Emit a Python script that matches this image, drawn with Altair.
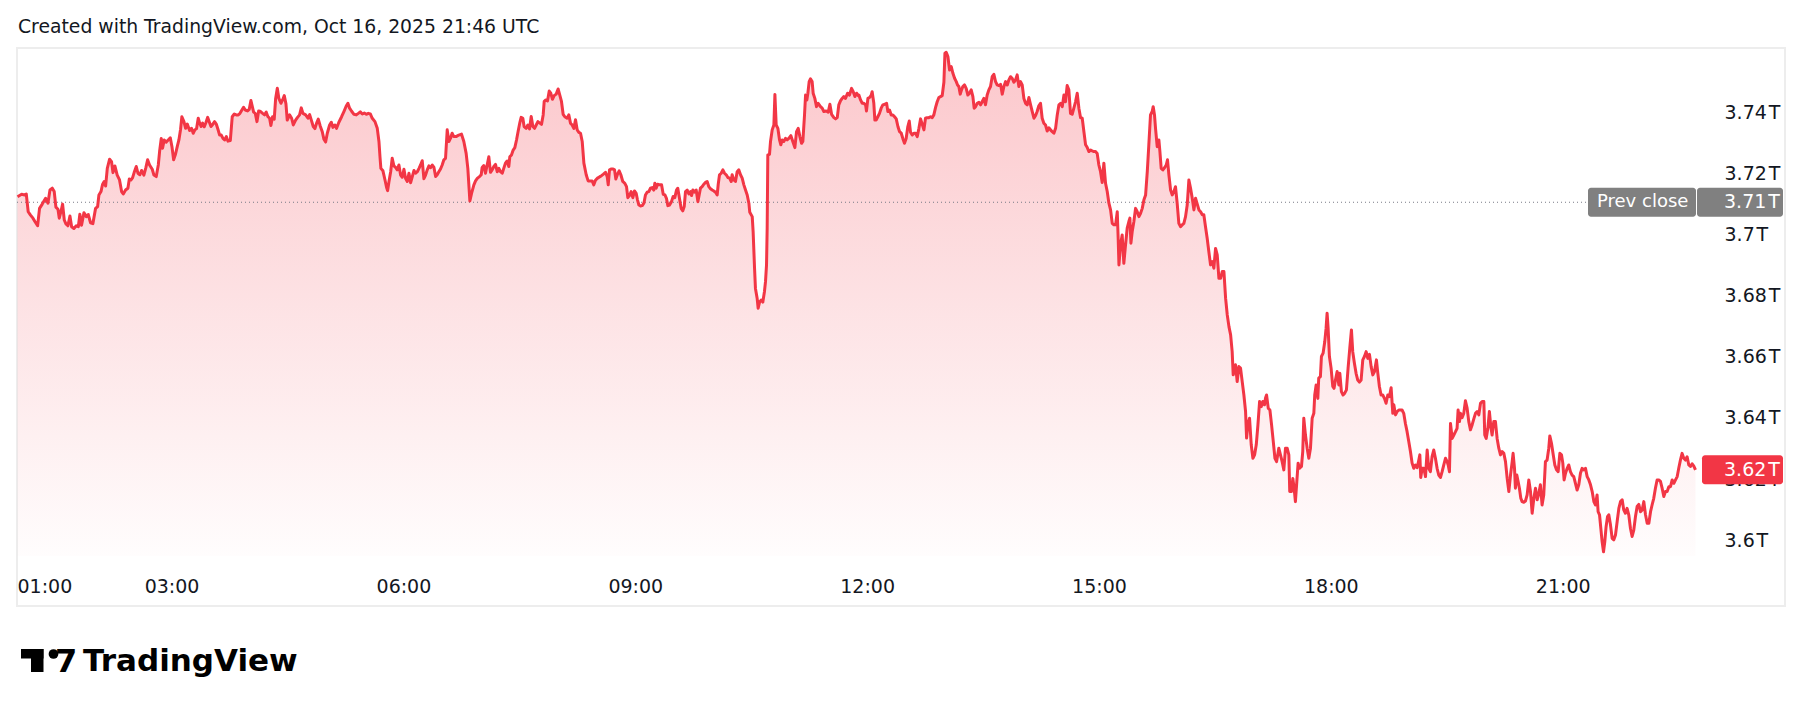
import altair as alt
import pandas as pd

# ---- data (time in minutes since 00:00, price in billions) ----
minutes = [
60.4,63.6,65.9,67.2,68.7,70.5,72.4,73.9,76.0,77.5,79.6,82.2,84.0,85.6,87.4,88.9,90.2,91.8,92.8,94.1,
95.4,96.7,98.0,99.5,101.1,102.4,104.2,106.0,107.6,108.8,110.1,112.0,113.8,115.3,117.1,118.9,121.0,122.6,123.6,125.2,
126.4,127.7,128.8,130.1,131.9,133.4,134.5,136.0,137.8,139.6,141.2,142.5,144.3,146.1,147.2,148.4,149.7,151.0,152.6,153.9,
155.4,156.7,158.5,160.1,161.4,162.9,165.0,166.3,168.1,169.7,170.7,172.0,173.0,174.3,175.9,177.4,179.0,180.3,181.6,183.1,
184.4,185.7,187.0,188.0,189.6,190.9,192.2,194.0,195.5,196.8,198.1,199.4,200.7,201.8,203.0,204.1,205.4,206.7,208.0,209.3,
210.6,211.8,213.4,214.7,216.0,217.3,218.6,219.9,221.2,222.5,223.8,225.6,227.1,228.7,230.2,231.8,233.1,234.6,235.9,237.2,
239.0,240.3,241.6,242.7,243.7,245.0,246.3,247.6,249.1,250.7,252.2,253.5,254.8,256.1,257.1,258.4,259.7,260.8,262.1,263.3,
264.9,266.2,267.5,268.8,269.8,271.6,273.2,274.5,276.3,277.8,279.4,280.7,282.0,284.1,285.9,287.2,288.5,290.0,291.3,292.6,
293.9,295.4,297.0,298.3,299.6,300.9,302.7,304.0,305.3,306.8,308.1,309.9,312.0,313.8,315.6,316.9,318.2,319.8,321.6,323.4,
325.0,326.5,328.1,329.6,331.2,332.7,334.3,335.8,337.9,339.7,341.0,341.8,342.5,344.1,345.7,346.9,347.7,348.8,350.1,351.3,
352.6,353.9,355.2,356.5,357.8,359.1,360.4,361.7,363.0,364.3,365.6,366.9,368.2,369.5,370.8,372.1,373.3,374.6,375.9,377.2,
378.5,379.8,381.1,382.4,383.7,385.0,
386.2,387.5,388.8,390.1,391.4,392.7,394.0,395.3,396.5,397.8,399.1,400.9,403.0,405.1,406.9,408.7,410.0,410.8,411.6,412.9,
414.7,416.0,417.5,419.1,420.4,421.1,422.4,423.7,425.0,426.3,427.6,428.9,430.2,431.5,432.8,434.1,435.4,436.7,437.9,439.2,
440.5,441.8,442.6,443.9,445.2,446.5,447.8,449.1,450.4,451.4,452.7,453.7,455.3,456.6,457.9,459.2,460.5,461.8,463.1,464.4,
465.9,467.2,468.5,469.3,470.6,471.9,473.2,474.4,475.7,477.0,478.6,480.1,481.4,482.7,484.0,485.3,487.1,488.4,489.7,491.0,
492.3,493.6,494.9,496.2,497.5,498.8,500.1,501.9,503.4,505.2,506.5,507.8,509.1,510.7,512.2,513.8,515.3,516.9,518.2,519.0,
520.0,521.5,522.8,523.9,524.9,526.2,527.5,528.8,530.3,531.9,533.2,534.2,535.5,536.8,538.1,539.4,540.7,541.7,542.8,544.1,
545.4,546.7,547.9,549.2,550.5,551.8,553.1,554.4,555.2,556.2,557.3,558.8,560.4,561.7,563.0,564.2,565.3,566.6,568.1,569.4,
570.7,572.0,573.0,574.3,575.6,576.9,578.0,579.0,580.3,581.6,582.9,583.7,584.7,586.0,587.3,588.6,589.6,590.6,591.9,593.2,
594.5,595.8,597.1,598.4,599.7,601.0,602.3,603.6,604.4,605.4,606.7,608.0,609.3,610.6,611.9,613.2,614.5,615.2,616.5,617.8,
619.1,620.4,621.7,623.0,624.3,625.6,626.9,628.2,628.9,630.8,631.5,632.0,632.6,633.3,634.6,635.4,636.5,637.7,639.0,640.3,
641.1,641.9,642.4,642.9,644.2,645.0,646.3,647.6,648.4,649.4,650.7,652.0,653.0,654.1,655.3,656.6,657.9,659.2,660.8,662.3,
663.9,665.2,666.5,667.8,669.1,670.1,671.4,672.2,673.2,674.0,675.0,676.0,677.3,678.1,679.4,680.7,682.0,683.8,685.1,686.4,
688.2,689.8,691.1,692.4,694.2,695.5,696.8,698.0,699.3,700.6,701.9,703.2,704.8,706.3,707.9,709.2,710.5,711.8,713.1,
713.6,714.9,716.2,717.5,718.8,719.5,720.6,721.9,723.2,723.9,725.2,726.0,727.0,728.3,729.6,730.9,732.2,733.8,735.1,736.1,
737.4,738.7,740.0,741.3,742.6,743.9,745.2,746.5,747.7,749.0,750.3,751.6,752.7,753.7,755.0,756.3,757.6,758.9,760.2,761.5,
762.8,764.1,765.3,766.6,767.9,769.2,770.5,771.8,773.1,774.4,775.7,777.0,778.3,779.6,780.4,781.4,782.7,784.0,785.3,786.6,
787.9,789.2,790.2,791.2,792.3,793.3,794.3,795.6,796.9,798.2,799.5,800.8,802.1,803.1,804.2,805.5,806.8,808.1,809.3,810.6,
811.9,813.2,814.5,815.8,817.1,818.4,819.7,821.0,822.3,823.6,824.9,826.2,827.5,828.8,830.0,831.3,832.6,833.9,835.2,836.5,
837.8,839.1,840.4,841.7,843.0,844.3,845.6,846.9,848.2,849.5,850.8,852.0,853.3,854.6,855.9,857.2,858.5,859.8,861.1,862.4,
863.7,865.0,866.3,867.6,868.9,870.2,871.5,872.8,874.0,875.3,876.6,877.9,879.2,880.5,881.8,883.1,884.4,885.7,887.0,888.3,
889.6,890.9,892.2,893.5,894.7,896.0,897.3,898.6,899.9,901.2,902.5,903.8,905.1,906.4,907.7,909.0,910.3,911.6,912.9,914.2,
914.9,915.5,916.7,918.0,919.3,920.6,921.9,923.2,924.0,924.8,925.8,927.1,928.4,929.7,931.0,932.3,933.6,934.9,936.2,937.5,
938.7,940.0,941.3,942.1,943.1,943.9,945.2,946.5,947.3,948.3,949.6,950.9,952.2,953.2,954.3,955.6,956.9,958.2,959.4,960.7,
962.0,963.3,964.6,965.9,967.2,968.5,969.8,971.1,972.4,973.7,975.0,976.3,977.6,978.9,980.2,981.4,982.7,984.0,985.3,986.6,
987.9,989.2,990.5,991.8,993.1,994.4,995.7,997.0,998.3,999.6,1000.9,1002.2,1003.4,1004.2,1005.0,1006.0,1007.3,1008.6,1009.9,1011.2,
1012.5,1013.8,1014.6,1015.6,1016.9,1018.2,1019.5,1020.8,1022.1,1023.4,1024.7,1026.0,1027.2,1028.5,1029.3,1030.1,1031.4,1032.7,1034.0,1035.3,
1036.6,1037.9,1039.2,
1039.6,1040.9,1042.2,1043.5,1044.8,1046.1,1047.4,1048.1,1049.4,1050.5,1051.5,1052.5,1053.6,1054.6,1055.6,1057.2,1058.2,1059.0,1060.3,1061.6,
1062.9,1064.2,1065.5,1066.8,1067.5,1068.6,1069.9,1070.6,1071.9,1072.7,1074.0,1075.3,1076.3,1077.1,1077.9,1078.9,1080.2,1081.5,1082.5,1083.6,
1084.9,1086.2,1087.0,1088.2,1089.5,1090.8,1092.1,1093.4,1094.7,1096.0,1097.0,1098.3,1099.6,1100.9,1102.2,1103.5,1104.8,1106.1,1107.4,1108.7,
1110.0,1111.3,1112.6,1113.9,1115.4,1116.5,1117.7,1119.0,1120.3,1121.6,1122.9,1124.2,1125.5,1126.8,1128.1,1128.9,1130.2,1131.5,1132.8,1134.1,
1135.3,1136.6,1137.9,1139.2,1140.5,1141.8,1143.1,1144.4,1145.7,1147.0,1148.3,1149.1,1149.8,1150.9,1152.2,1153.5,1154.8,1156.0,1157.3,1158.6,
1159.9,1161.2,1162.5,1163.8,1165.1,1166.4,1167.7,1169.0,1170.3,1171.1,1172.1,1172.9,1174.2,1175.5,1176.8,1178.0,1178.8,1179.9,1180.6,1181.9,
1183.2,1184.5,1185.8,1187.1,1188.4,1189.7,1191.0,1192.3,1193.6,1194.9,1196.2,1197.5,1198.8,1199.5,1200.6,1201.9,1203.1,1204.2,1205.2,1206.5,
1207.8,1209.1,1210.4,1211.7,1213.0,1214.3,1215.6,1216.9,1218.2,1219.5,1220.8,1221.5,1222.6,1223.3,1224.4,1225.4,1226.4,1227.5,1228.5,1229.8,
1231.1,1232.4,1233.7,1235.0,1236.3,1237.6,1238.9,1240.2,1241.5,1242.7,1244.0,1245.3,1246.6,1247.9,1249.2,1250.0,1251.3,1252.6,1253.9,1255.2,
1256.5,1257.8,1259.1,1260.1,1261.1,1262.2,1263.5,1264.7,1266.0,1267.3,1268.6,1269.9,1271.2,1272.5,1273.8,1275.1,1276.4,1277.7,1279.0,1280.3,
1281.6,1282.9,1284.2,1285.4,1286.7,1287.5,1288.6,1289.6,1290.6,1291.7,1292.7,1293.7,1294.8,1295.8,1297.1,1298.4,1299.7,1301.0,1302.3,1303.6,
1304.9,1306.2,1307.4,1308.7,1310.0,1311.3,1312.6,1313.9,1315.2,1316.5,1317.8,1319.1,1320.4,1321.7,1323.0,1324.3,1325.6,1326.9,1328.2,1329.4,
1330.7,1332.0,1333.3,1334.6,1335.9,1337.2,1338.5,1339.8,1341.1,1342.4,1343.7,1345.0,1346.3,1347.6,1348.9,1350.1,1351.4,1352.7,1354.0,1355.3,
1356.6,1357.9,1359.2,1360.5,1361.8,1363.1,
]

price_b = [
3712.4,3713.2,3713.0,3713.3,3707.5,3706.4,3705.4,3704.3,3702.9,3708.6,3710.0,3711.9,3710.3,3714.6,3715.2,3714.1,3709.0,3708.3,3705.4,3707.5,
3710.0,3704.8,3703.5,3702.9,3706.1,3702.6,3702.0,3702.9,3702.6,3706.7,3703.1,3707.2,3705.9,3706.6,3703.9,3703.6,3708.6,3709.2,3713.0,3714.1,
3716.4,3717.4,3715.9,3721.7,3724.7,3723.9,3720.3,3722.5,3719.5,3717.9,3714.1,3713.3,3714.6,3715.2,3718.2,3717.9,3718.6,3720.4,3722.3,3720.1,
3719.6,3721.0,3719.5,3722.0,3724.5,3722.8,3721.4,3719.5,3719.0,3722.8,3727.2,3731.5,3728.3,3731.0,3730.3,3731.0,3731.7,3728.8,3724.5,3726.4,
3728.8,3731.0,3734.5,3738.6,3737.0,3734.8,3736.2,3734.1,3734.8,3733.2,3734.3,3734.7,3738.1,3736.5,3735.4,3736.5,3735.3,3736.7,3738.4,3736.9,
3735.4,3736.0,3737.0,3736.2,3734.5,3732.6,3732.6,3731.5,3731.0,3732.1,3730.6,3730.8,3738.6,3739.5,3739.2,3739.2,3739.7,3740.8,3741.7,3740.8,
3740.5,3741.0,3743.9,3741.9,3740.1,3739.7,3737.0,3740.5,3740.3,3739.7,3739.2,3740.1,3738.6,3738.1,3735.7,3738.6,3737.8,3744.6,3747.9,3744.6,
3743.0,3744.1,3745.5,3742.8,3737.5,3739.2,3738.1,3735.9,3737.5,3738.4,3739.2,3741.5,3739.7,3739.2,3738.1,3739.3,3737.5,3735.4,3734.7,3736.5,
3737.8,3735.6,3733.7,3731.2,3730.3,3733.2,3735.9,3736.8,3735.1,3735.9,3734.8,3736.8,3738.6,3740.3,3742.1,3743.0,3741.4,3740.4,3739.4,3739.2,
3739.7,3740.2,3739.5,3739.8,3739.4,3739.7,3739.5,3738.1,3737.0,3734.8,3730.5,3725.5,3721.7,3720.9,3717.9,3715.5,3714.4,3717.4,3720.6,3725.0,
3722.5,3722.0,3721.2,3722.8,3719.5,3718.8,3721.4,3718.4,3717.4,3720.1,3717.0,3719.0,3721.0,3720.1,3720.6,3721.7,3722.8,3724.2,3718.3,3719.5,
3721.2,3722.5,3721.9,3722.8,3722.0,3719.0,
3719.6,3720.6,3721.5,3722.8,3724.5,3725.0,3734.3,3730.5,3731.5,3733.2,3732.1,3732.1,3732.6,3732.9,3730.5,3726.6,3721.7,3716.3,3711.0,3713.5,
3716.3,3717.6,3718.5,3719.0,3719.6,3722.0,3722.6,3720.1,3722.8,3725.5,3720.4,3721.2,3722.3,3723.0,3720.6,3721.7,3720.6,3720.1,3721.7,3723.4,
3724.1,3722.3,3725.5,3726.1,3727.7,3728.5,3731.0,3733.9,3736.7,3738.4,3738.1,3735.4,3734.8,3735.9,3734.6,3738.7,3735.4,3734.8,3735.9,3737.0,
3736.5,3736.1,3739.2,3743.6,3744.1,3743.8,3747.0,3746.3,3744.3,3745.5,3746.0,3747.7,3745.7,3743.6,3739.4,3738.6,3738.1,3739.2,3736.5,3735.9,
3734.8,3737.6,3734.3,3733.5,3733.2,3730.5,3723.4,3719.6,3717.6,3717.6,3717.6,3716.3,3717.8,3718.5,3718.9,3719.3,3719.8,3720.4,3719.0,3716.3,
3721.2,3721.5,3721.5,3721.2,3718.2,3719.8,3720.9,3719.6,3717.4,3716.8,3715.7,3712.1,3712.8,3714.1,3712.1,3714.3,3713.5,3711.4,3709.7,3709.4,
3709.5,3710.3,3713.0,3713.9,3714.1,3715.2,3715.4,3714.6,3716.8,3715.2,3716.5,3716.3,3716.3,3713.2,3713.0,3711.9,3709.5,3709.7,3710.8,3712.5,
3712.1,3714.6,3715.2,3711.9,3708.6,3707.8,3709.2,3714.1,3714.6,3713.3,3714.1,3712.8,3714.6,3713.9,3714.6,3710.8,3713.0,3715.2,3715.7,3716.5,
3717.1,3717.4,3715.7,3715.0,3714.6,3714.3,3713.9,3713.0,3716.5,3719.6,3720.1,3721.2,3720.1,3719.6,3718.7,3718.5,3717.4,3719.6,3717.9,3717.4,
3720.6,3721.2,3719.6,3718.5,3716.3,3714.6,3713.0,3710.3,3707.3,3705.9,3701.0,3695.5,3689.0,3682.4,3679.2,3675.9,3677.9,3678.6,3677.9,3681.4,
3684.6,3690.1,3702.1,3726.1,3726.3,3730.5,3734.3,3735.9,3745.9,3735.9,3734.8,3731.0,3729.4,3731.0,3730.5,3731.5,3731.0,3731.5,3732.4,3730.5,
3728.5,3733.7,3734.8,3732.1,3729.9,3730.5,3739.2,3745.7,3744.1,3746.3,3750.1,3751.0,3750.1,3746.3,3744.6,3741.9,3743.0,3741.9,3741.4,3740.3,
3740.5,3740.1,3742.7,3739.4,3738.3,3737.9,3738.3,3742.5,3743.8,3744.6,3745.2,3744.6,3746.3,3745.7,3747.9,3746.8,3745.2,3746.3,3745.5,
3745.7,3744.1,3743.0,3743.0,3742.5,3740.5,3744.6,3744.9,3745.7,3746.8,3743.0,3737.5,3737.5,3738.6,3739.7,3741.4,3742.5,3742.7,3743.0,3740.3,
3740.8,3739.2,3739.2,3738.6,3737.9,3735.4,3733.7,3733.2,3731.5,3729.9,3731.5,3735.4,3737.2,3733.5,3732.6,3733.2,3733.2,3732.1,3734.8,3737.9,
3736.1,3734.3,3738.1,3738.3,3738.3,3738.6,3738.3,3739.2,3741.6,3743.5,3744.9,3745.2,3745.5,3749.9,3759.4,3759.7,3758.3,3753.9,3755.0,3752.8,
3751.2,3750.1,3749.0,3748.5,3746.0,3747.4,3748.5,3749.0,3747.9,3745.7,3746.3,3747.4,3745.2,3741.4,3741.9,3743.0,3743.3,3742.5,3743.5,3744.6,
3742.5,3745.7,3747.4,3748.5,3751.7,3752.5,3750.1,3749.0,3748.8,3749.2,3746.0,3748.5,3750.1,3749.0,3750.6,3751.7,3751.2,3749.9,3750.6,3752.3,
3748.5,3750.1,3749.0,3744.6,3743.0,3742.5,3744.9,3742.5,3740.3,3738.1,3739.0,3740.3,3742.2,3743.0,3738.1,3736.5,3735.9,3733.9,3735.0,3734.3,
3733.7,3733.2,3734.8,3739.2,3742.5,3743.0,3741.9,3745.7,3743.5,3748.8,3747.4,3739.7,3739.4,3741.4,3743.5,3746.3,3741.4,3738.3,3738.1,3733.7,
3729.4,3728.5,3727.2,3727.7,3727.4,3727.2,3727.2,3726.6,3722.8,3720.6,3717.1,3723.4,3716.8,3714.1,3710.3,3708.1,3703.7,3703.2,3703.2,3707.5,
3698.8,3690.1,3696.6,3699.9,3690.6,3696.6,3702.1,3704.3,3705.4,3697.2,3701.0,3704.3,3708.6,3707.5,3705.9,3707.0,3708.6,3711.4,3713.0,3720.6,
3729.4,3739.2,3740.3,3741.9,3739.2,3734.8,3728.8,3731.0,3727.2,3721.7,3721.2,3721.9,3722.8,3724.5,3719.5,3714.6,3713.0,3714.1,3715.7,3710.3,
3703.7,3702.6,3703.2,3703.7,3705.9,3709.7,3717.9,3715.2,3711.9,3708.1,3711.9,3710.0,3708.1,3707.5,3706.5,3706.5,3702.6,3698.8,3694.4,3690.1,
3691.2,3689.0,3695.5,3693.4,3685.7,3685.7,3687.9,3687.9,3679.2,3673.7,3669.9,3667.2,3661.7,3654.1,3655.7,3657.4,3651.9,3656.8,3656.3,3651.9,
3647.5,3642.1,3633.4,3637.7,3639.9,3631.2,3626.8,3627.9,3631.2,3637.7,3645.4,3643.7,3645.4,3644.3,3646.5,3647.5,3643.2,3642.6,3637.7,3632.3,
3626.8,3625.7,3629.0,
3630.1,3627.9,3625.7,3623.0,3630.1,3630.1,3627.9,3615.9,3615.9,3620.2,3617.0,3612.6,3619.2,3625.2,3623.5,3624.1,3629.0,3639.9,3634.4,3630.1,
3626.8,3630.1,3639.9,3641.5,3647.5,3650.8,3646.4,3653.0,3653.5,3660.1,3661.2,3665.0,3669.3,3674.3,3669.3,3660.1,3656.3,3650.3,3649.7,3652.4,
3655.2,3650.8,3654.6,3648.6,3647.5,3648.1,3649.2,3656.3,3662.8,3668.8,3661.7,3657.9,3654.6,3652.4,3651.7,3652.4,3659.0,3660.1,3661.7,3659.5,
3660.8,3656.8,3654.1,3655.2,3659.0,3654.6,3650.3,3647.5,3647.5,3646.4,3644.8,3647.5,3647.0,3649.9,3641.5,3644.3,3641.0,3642.1,3642.6,3642.6,
3642.6,3641.5,3638.2,3635.5,3632.3,3629.0,3625.2,3623.5,3624.6,3623.7,3626.2,3627.9,3620.5,3623.5,3623.5,3620.8,3629.5,3623.5,3622.4,3627.3,
3629.5,3626.8,3623.5,3621.3,3620.5,3622.4,3624.6,3626.8,3625.7,3624.6,3622.4,3638.2,3633.3,3634.4,3635.5,3636.6,3642.6,3638.8,3641.5,3640.1,
3641.5,3645.6,3643.2,3638.8,3636.1,3637.7,3639.7,3641.5,3642.1,3641.0,3644.8,3645.4,3645.4,3634.4,3633.3,3636.6,3642.1,3637.2,3634.4,3638.8,
3638.8,3633.3,3630.1,3627.9,3629.0,3628.4,3625.7,3620.2,3615.9,3621.3,3625.7,3628.4,3623.5,3617.0,3621.3,3619.2,3617.0,3613.7,3612.6,3612.4,
3612.8,3614.8,3619.7,3615.9,3608.8,3613.7,3617.0,3613.2,3615.3,3618.1,3611.5,3614.8,3625.7,3626.2,3630.1,3634.1,3631.7,3628.1,3624.6,3623.0,
3622.4,3628.4,3627.9,3625.2,3619.7,3621.9,3623.5,3624.6,3622.4,3621.3,3620.8,3618.6,3616.4,3618.1,3621.9,3623.5,3623.0,3623.5,3620.8,3619.7,
3618.1,3615.9,3612.6,3611.5,3614.8,3609.3,3608.3,3603.9,3599.5,3596.2,3599.5,3604.4,3607.7,3608.3,3605.0,3600.6,3600.1,3601.7,3606.1,3610.4,
3612.6,3613.2,3609.9,3608.8,3610.4,3608.3,3603.9,3601.2,3603.3,3607.7,3611.0,3611.7,3609.3,3609.9,3612.6,3608.3,3605.5,3605.5,3609.3,3611.5,
3613.7,3617.0,3619.7,3619.7,3619.2,3617.0,3614.3,3615.9,3615.9,3617.5,3617.5,3619.7,3618.6,3619.7,3620.8,3623.5,3626.2,3628.4,3626.8,3626.2,
3627.3,3624.6,3624.1,3625.0,3624.2,3623.0,
]

prev_close_b = 3710.6
x_tick_minutes = [60, 180, 360, 540, 720, 900, 1080, 1260]
y_tick_b = [3600, 3620, 3640, 3660, 3680, 3700, 3720, 3740]
header_text = "Created with TradingView.com, Oct 16, 2025 21:46 UTC"
brand_text = "TradingView"

# ---- layout ----
W, H = 1679, 508
Y_MIN, Y_MAX = 3594.8, 3761.1
FONT = "DejaVu Sans"
INK = "#131722"
RED = "#F23645"
GREY = "#808080"
BOX_HALF_B = 14.5 / 3.055  # half label-box height expressed in price units

df = pd.DataFrame({"minute": minutes, "price": price_b})
xs = alt.Scale(domain=[60, 1363.5], nice=False, zero=False)
ys = alt.Scale(domain=[Y_MIN, Y_MAX], nice=False, zero=False)

x_axis = alt.Axis(
    values=x_tick_minutes,
    labelExpr="(datum.value < 600 ? '0' : '') + floor(datum.value / 60) + ':00'",
    labelFlush=True, ticks=False, domain=False, grid=False, title=None,
    labelFont=FONT, labelFontSize=19, labelColor=INK, labelPadding=36,
    labelBaseline="alphabetic", labelOverlap=False,
)
y_axis = alt.Axis(
    orient="right", values=y_tick_b,
    labelExpr="format(datum.value / 1000, '.2~f') + '\u200aT'",
    ticks=False, domain=False, grid=False, title=None,
    labelFont=FONT, labelFontSize=19, labelColor=INK, labelPadding=28,
    labelAlign="left", labelOverlap=False,
)

one = alt.Data(values=[{}])

frame = alt.Chart(one).mark_rect(fill="transparent", stroke="#EDEDED", strokeWidth=2).encode(
    x=alt.value(0), x2=alt.value(1768), y=alt.value(0), y2=alt.value(558)
)

area = alt.Chart(df).mark_area(
    color=alt.Gradient(
        gradient="linear",
        stops=[alt.GradientStop(color="rgba(242,54,69,0.28)", offset=0),
               alt.GradientStop(color="rgba(242,54,69,0.01)", offset=1)],
        x1=1, x2=1, y1=0, y2=1,
    )
).encode(
    x=alt.X("minute:Q", scale=xs, axis=x_axis),
    y=alt.Y("price:Q", scale=ys, axis=y_axis),
    y2=alt.datum(Y_MIN),
)

pc_data = alt.Data(values=[{"pc": prev_close_b}])
pc_rule = alt.Chart(pc_data).mark_rule(color="#787B86", strokeDash=[1, 3], strokeWidth=1).encode(
    y=alt.Y("pc:Q", scale=ys, axis=y_axis), x=alt.value(0), x2=alt.value(1571)
)

line = alt.Chart(df).mark_line(color=RED, strokeWidth=3, strokeJoin="round").encode(
    x=alt.X("minute:Q", scale=xs, axis=x_axis),
    y=alt.Y("price:Q", scale=ys, axis=y_axis),
)

pc_base = alt.Chart(pc_data).transform_calculate(
    top=f"datum.pc + {BOX_HALF_B}", bot=f"datum.pc - {BOX_HALF_B}",
    lab="format(datum.pc / 1000, '.2f') + '\u200aT'",
)
pc_box1 = pc_base.mark_rect(color=GREY, cornerRadius=3).encode(
    y=alt.Y("top:Q", scale=ys, axis=y_axis), y2="bot:Q", x=alt.value(1571), x2=alt.value(1679)
)
pc_box2 = pc_base.mark_rect(color=GREY, cornerRadius=3).encode(
    y=alt.Y("top:Q", scale=ys, axis=y_axis), y2="bot:Q", x=alt.value(1680), x2=alt.value(1766)
)
pc_txt1 = pc_base.mark_text(text="Prev close", align="left", baseline="middle", font=FONT,
                            fontSize=18, color="white").encode(
    y=alt.Y("pc:Q", scale=ys, axis=y_axis), x=alt.value(1580)
)
pc_txt2 = pc_base.mark_text(align="left", baseline="middle", font=FONT, fontSize=19,
                            color="white").encode(
    y=alt.Y("pc:Q", scale=ys, axis=y_axis), x=alt.value(1707), text="lab:N"
)

last_data = alt.Data(values=[{"v": price_b[-1]}])
last_base = alt.Chart(last_data).transform_calculate(
    top=f"datum.v + {BOX_HALF_B}", bot=f"datum.v - {BOX_HALF_B}",
    lab="format(datum.v / 1000, '.2f') + '\u200aT'",
)
last_box = last_base.mark_rect(color=RED, cornerRadius=3).encode(
    y=alt.Y("top:Q", scale=ys, axis=y_axis), y2="bot:Q", x=alt.value(1685), x2=alt.value(1766)
)
last_txt = last_base.mark_text(align="left", baseline="middle", font=FONT, fontSize=19,
                               color="white").encode(
    y=alt.Y("v:Q", scale=ys, axis=y_axis), x=alt.value(1707), text="lab:N"
)

header = alt.Chart(alt.Data(values=[{"t": header_text}])).mark_text(
    align="left", baseline="alphabetic", font=FONT, fontSize=18.8, color=INK
).encode(x=alt.value(1), y=alt.value(-15), text="t:N")

# TradingView logo (decorative)
logo_bar = alt.Chart(one).mark_rect(color="#000000").encode(
    x=alt.value(4), x2=alt.value(26.5), y=alt.value(601), y2=alt.value(610.5))
logo_stem = alt.Chart(one).mark_rect(color="#000000").encode(
    x=alt.value(14), x2=alt.value(26.5), y=alt.value(601), y2=alt.value(624))
logo_dot = alt.Chart(one).mark_circle(color="#000000", opacity=1, size=95).encode(
    x=alt.value(36.5), y=alt.value(606))
logo_seven = alt.Chart(one).mark_text(text="7", align="left", baseline="alphabetic",
                                      font=FONT, fontWeight="bold", fontSize=32,
                                      color="#000000").encode(x=alt.value(38), y=alt.value(624))
brand = alt.Chart(alt.Data(values=[{"t": brand_text}])).mark_text(
    align="left", baseline="alphabetic", font=FONT, fontWeight="bold", fontSize=31, color="#000000"
).encode(x=alt.value(66), y=alt.value(623), text="t:N")

chart = alt.layer(
    frame, area, pc_rule, line, pc_box1, pc_box2, pc_txt1, pc_txt2, last_box, last_txt,
    header, logo_bar, logo_stem, logo_dot, logo_seven, brand,
).properties(
    width=W, height=H,
    padding={"left": 9, "top": 40, "right": 114, "bottom": 142},
    autosize=alt.AutoSizeParams(type="none"),
).configure_view(strokeWidth=0)

chart.save("out.html", embed_options={"renderer": "svg", "actions": False})
